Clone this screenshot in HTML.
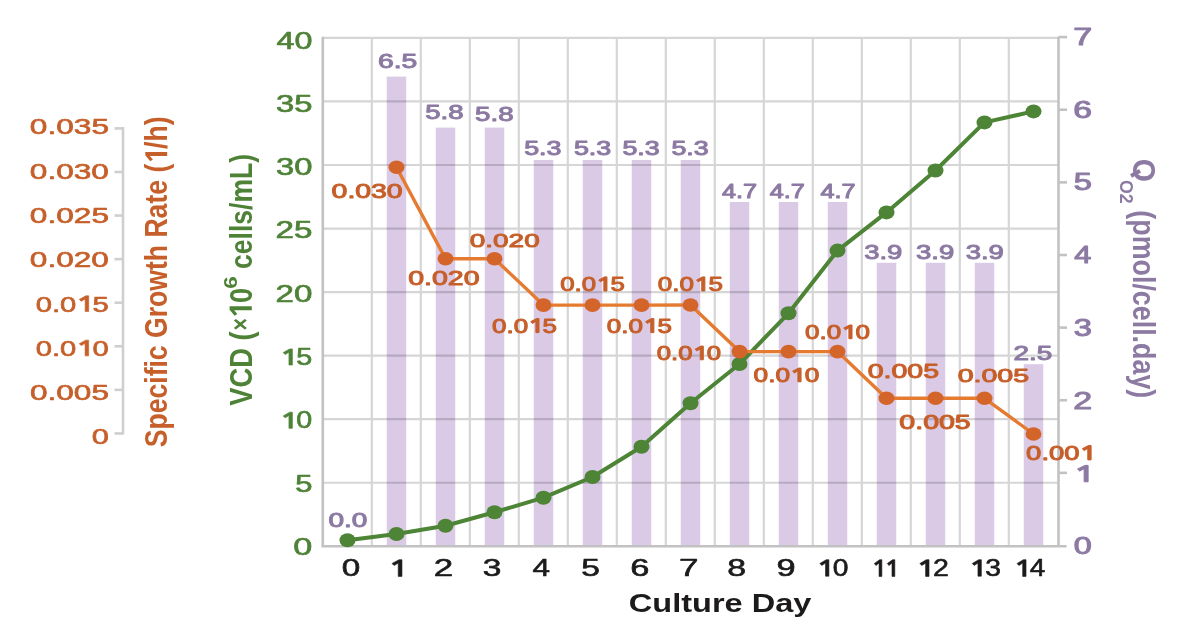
<!DOCTYPE html>
<html><head><meta charset="utf-8"><style>
html,body{margin:0;padding:0;background:#fff;width:1200px;height:630px;overflow:hidden}
svg{display:block;font-family:"Liberation Sans", sans-serif}
</style></head><body>
<svg width="1200" height="630" viewBox="0 0 1200 630">
<rect width="1200" height="630" fill="#fff"/>
<g stroke="#d6d6d6" stroke-width="2.2"><line x1="371.8" y1="37.8" x2="371.8" y2="546.3"/><line x1="420.8" y1="37.8" x2="420.8" y2="546.3"/><line x1="469.8" y1="37.8" x2="469.8" y2="546.3"/><line x1="518.8" y1="37.8" x2="518.8" y2="546.3"/><line x1="567.8" y1="37.8" x2="567.8" y2="546.3"/><line x1="616.8" y1="37.8" x2="616.8" y2="546.3"/><line x1="665.8" y1="37.8" x2="665.8" y2="546.3"/><line x1="714.8" y1="37.8" x2="714.8" y2="546.3"/><line x1="763.8" y1="37.8" x2="763.8" y2="546.3"/><line x1="812.8" y1="37.8" x2="812.8" y2="546.3"/><line x1="861.8" y1="37.8" x2="861.8" y2="546.3"/><line x1="910.8" y1="37.8" x2="910.8" y2="546.3"/><line x1="959.8" y1="37.8" x2="959.8" y2="546.3"/><line x1="1008.8" y1="37.8" x2="1008.8" y2="546.3"/><line x1="322.8" y1="482.75" x2="1058.5" y2="482.75"/><line x1="322.8" y1="419.2" x2="1058.5" y2="419.2"/><line x1="322.8" y1="355.65" x2="1058.5" y2="355.65"/><line x1="322.8" y1="292.1" x2="1058.5" y2="292.1"/><line x1="322.8" y1="228.55" x2="1058.5" y2="228.55"/><line x1="322.8" y1="165" x2="1058.5" y2="165"/><line x1="322.8" y1="101.45" x2="1058.5" y2="101.45"/><line x1="322.8" y1="37.9" x2="1058.5" y2="37.9"/></g>
<g fill="#dacae5" style="mix-blend-mode:multiply"><rect x="386.75" y="76.6" width="19.5" height="469.7"/><rect x="435.75" y="127.6" width="19.5" height="418.7"/><rect x="484.75" y="127.6" width="19.5" height="418.7"/><rect x="533.75" y="160" width="19.5" height="386.3"/><rect x="582.75" y="160" width="19.5" height="386.3"/><rect x="631.75" y="160" width="19.5" height="386.3"/><rect x="680.75" y="160" width="19.5" height="386.3"/><rect x="729.75" y="202" width="19.5" height="344.3"/><rect x="778.75" y="202" width="19.5" height="344.3"/><rect x="827.75" y="202" width="19.5" height="344.3"/><rect x="876.75" y="262.8" width="19.5" height="283.5"/><rect x="925.75" y="262.8" width="19.5" height="283.5"/><rect x="974.75" y="262.8" width="19.5" height="283.5"/><rect x="1023.75" y="364.2" width="19.5" height="182.1"/></g>
<g stroke="#c2c2c2" stroke-width="2.6" fill="none"><line x1="322.8" y1="36.8" x2="322.8" y2="546.3"/><line x1="1058.5" y1="36.8" x2="1058.5" y2="546.3"/><line x1="321.5" y1="546.3" x2="1066.5" y2="546.3"/><line x1="1058.5" y1="472.87" x2="1067" y2="472.87"/><line x1="1058.5" y1="400.24" x2="1067" y2="400.24"/><line x1="1058.5" y1="327.61" x2="1067" y2="327.61"/><line x1="1058.5" y1="254.98" x2="1067" y2="254.98"/><line x1="1058.5" y1="182.35" x2="1067" y2="182.35"/><line x1="1058.5" y1="109.72" x2="1067" y2="109.72"/><line x1="1058.5" y1="37.09" x2="1067" y2="37.09"/></g>
<g stroke="#cfcfcf" stroke-width="2.6" fill="none"><line x1="123" y1="127" x2="123" y2="434.5"/><line x1="114.5" y1="128.4" x2="123" y2="128.4"/><line x1="114.5" y1="171.98" x2="123" y2="171.98"/><line x1="114.5" y1="215.56" x2="123" y2="215.56"/><line x1="114.5" y1="259.14" x2="123" y2="259.14"/><line x1="114.5" y1="302.72" x2="123" y2="302.72"/><line x1="114.5" y1="346.3" x2="123" y2="346.3"/><line x1="114.5" y1="389.88" x2="123" y2="389.88"/><line x1="114.5" y1="433.46" x2="123" y2="433.46"/></g>
<polyline points="347.5,540.2 396.5,534 445.5,525.7 494.5,512.3 543.5,497.7 592.5,477 641.5,446.7 690.5,403.2 739.5,364 788.5,313.3 837.5,250.6 886.5,212.4 935.5,170.5 984.5,122.4 1033.5,111.4" fill="none" stroke="#4d8436" stroke-width="4" stroke-linejoin="round"/>
<g fill="#4d8436"><ellipse cx="347.5" cy="540.2" rx="8" ry="7"/><ellipse cx="396.5" cy="534" rx="8" ry="7"/><ellipse cx="445.5" cy="525.7" rx="8" ry="7"/><ellipse cx="494.5" cy="512.3" rx="8" ry="7"/><ellipse cx="543.5" cy="497.7" rx="8" ry="7"/><ellipse cx="592.5" cy="477" rx="8" ry="7"/><ellipse cx="641.5" cy="446.7" rx="8" ry="7"/><ellipse cx="690.5" cy="403.2" rx="8" ry="7"/><ellipse cx="739.5" cy="364" rx="8" ry="7"/><ellipse cx="788.5" cy="313.3" rx="8" ry="7"/><ellipse cx="837.5" cy="250.6" rx="8" ry="7"/><ellipse cx="886.5" cy="212.4" rx="8" ry="7"/><ellipse cx="935.5" cy="170.5" rx="8" ry="7"/><ellipse cx="984.5" cy="122.4" rx="8" ry="7"/><ellipse cx="1033.5" cy="111.4" rx="8" ry="7"/></g>
<polyline points="396.5,167.3 445.5,258.7 494.5,258.7 543.5,305.1 592.5,305.1 641.5,305.1 690.5,305 739.5,351.6 788.5,351.6 837.5,351.6 886.5,398.3 935.5,398.3 984.5,398.3 1033.5,434" fill="none" stroke="#e57a31" stroke-width="3.4" stroke-linejoin="round"/>
<g fill="#d4652a"><ellipse cx="396.5" cy="167.3" rx="8" ry="6.8"/><ellipse cx="445.5" cy="258.7" rx="8" ry="6.8"/><ellipse cx="494.5" cy="258.7" rx="8" ry="6.8"/><ellipse cx="543.5" cy="305.1" rx="8" ry="6.8"/><ellipse cx="592.5" cy="305.1" rx="8" ry="6.8"/><ellipse cx="641.5" cy="305.1" rx="8" ry="6.8"/><ellipse cx="690.5" cy="305" rx="8" ry="6.8"/><ellipse cx="739.5" cy="351.6" rx="8" ry="6.8"/><ellipse cx="788.5" cy="351.6" rx="8" ry="6.8"/><ellipse cx="837.5" cy="351.6" rx="8" ry="6.8"/><ellipse cx="886.5" cy="398.3" rx="8" ry="6.8"/><ellipse cx="935.5" cy="398.3" rx="8" ry="6.8"/><ellipse cx="984.5" cy="398.3" rx="8" ry="6.8"/><ellipse cx="1033.5" cy="434" rx="8" ry="6.8"/></g>
<text x="328.51" y="527.11" font-size="19.92" font-weight="normal" fill="#8c7aa3" stroke="#8c7aa3" stroke-width="1" stroke-linejoin="round" textLength="38.89" lengthAdjust="spacingAndGlyphs">0.0</text>
<text x="378.06" y="68.11" font-size="19.77" font-weight="normal" fill="#8c7aa3" stroke="#8c7aa3" stroke-width="1" stroke-linejoin="round" textLength="39.32" lengthAdjust="spacingAndGlyphs">6.5</text>
<text x="425.3" y="119.3" font-size="20.06" font-weight="normal" fill="#8c7aa3" stroke="#8c7aa3" stroke-width="1" stroke-linejoin="round" textLength="38.3" lengthAdjust="spacingAndGlyphs">5.8</text>
<text x="475.09" y="120.7" font-size="20.06" font-weight="normal" fill="#8c7aa3" stroke="#8c7aa3" stroke-width="1" stroke-linejoin="round" textLength="38.51" lengthAdjust="spacingAndGlyphs">5.8</text>
<text x="524.23" y="154.71" font-size="19.35" font-weight="normal" fill="#8c7aa3" stroke="#8c7aa3" stroke-width="1" stroke-linejoin="round" textLength="37.25" lengthAdjust="spacingAndGlyphs">5.3</text>
<text x="573.93" y="154.71" font-size="19.35" font-weight="normal" fill="#8c7aa3" stroke="#8c7aa3" stroke-width="1" stroke-linejoin="round" textLength="37.25" lengthAdjust="spacingAndGlyphs">5.3</text>
<text x="622.43" y="154.71" font-size="19.35" font-weight="normal" fill="#8c7aa3" stroke="#8c7aa3" stroke-width="1" stroke-linejoin="round" textLength="37.25" lengthAdjust="spacingAndGlyphs">5.3</text>
<text x="671.43" y="154.71" font-size="19.35" font-weight="normal" fill="#8c7aa3" stroke="#8c7aa3" stroke-width="1" stroke-linejoin="round" textLength="37.25" lengthAdjust="spacingAndGlyphs">5.3</text>
<text x="722.07" y="197.5" font-size="19.99" font-weight="normal" fill="#8c7aa3" stroke="#8c7aa3" stroke-width="1" stroke-linejoin="round" textLength="35.05" lengthAdjust="spacingAndGlyphs">4.7</text>
<text x="769.82" y="197.5" font-size="19.99" font-weight="normal" fill="#8c7aa3" stroke="#8c7aa3" stroke-width="1" stroke-linejoin="round" textLength="35.05" lengthAdjust="spacingAndGlyphs">4.7</text>
<text x="820.52" y="197.5" font-size="19.99" font-weight="normal" fill="#8c7aa3" stroke="#8c7aa3" stroke-width="1" stroke-linejoin="round" textLength="35.05" lengthAdjust="spacingAndGlyphs">4.7</text>
<text x="864.15" y="259.05" font-size="20.27" font-weight="normal" fill="#8c7aa3" stroke="#8c7aa3" stroke-width="1" stroke-linejoin="round" textLength="38.14" lengthAdjust="spacingAndGlyphs">3.9</text>
<text x="916.05" y="259.05" font-size="20.27" font-weight="normal" fill="#8c7aa3" stroke="#8c7aa3" stroke-width="1" stroke-linejoin="round" textLength="38.14" lengthAdjust="spacingAndGlyphs">3.9</text>
<text x="965.75" y="259.05" font-size="20.27" font-weight="normal" fill="#8c7aa3" stroke="#8c7aa3" stroke-width="1" stroke-linejoin="round" textLength="38.14" lengthAdjust="spacingAndGlyphs">3.9</text>
<text x="1013.5" y="359.81" font-size="19.35" font-weight="normal" fill="#8c7aa3" stroke="#8c7aa3" stroke-width="1" stroke-linejoin="round" textLength="38.77" lengthAdjust="spacingAndGlyphs">2.5</text>
<text x="331.59" y="198.1" font-size="20.2" font-weight="normal" fill="#c65f2a" stroke="#c65f2a" stroke-width="1" stroke-linejoin="round" textLength="71.12" lengthAdjust="spacingAndGlyphs">0.030</text>
<text x="408.19" y="285.4" font-size="20.48" font-weight="normal" fill="#c65f2a" stroke="#c65f2a" stroke-width="1" stroke-linejoin="round" textLength="71.33" lengthAdjust="spacingAndGlyphs">0.020</text>
<text x="469.81" y="247.01" font-size="19.21" font-weight="normal" fill="#c65f2a" stroke="#c65f2a" stroke-width="1" stroke-linejoin="round" textLength="69.88" lengthAdjust="spacingAndGlyphs">0.020</text>
<text x="491.99" y="332.6" font-size="20.2" font-weight="normal" fill="#c65f2a" stroke="#c65f2a" stroke-width="1" stroke-linejoin="round" textLength="65.01" lengthAdjust="spacingAndGlyphs">0.0 5</text>
<path d="M0.420 -0.698 L0.420 0.000 L0.300 0.000 L0.300 -0.555 L0.165 -0.455 L0.100 -0.540 L0.325 -0.698Z" fill="#c65f2a" transform="translate(528.1 332.6) scale(25.9769 20.1975)" stroke="#c65f2a" stroke-width="1" stroke-linejoin="round" vector-effect="non-scaling-stroke"/>
<text x="560.29" y="291" font-size="20.2" font-weight="normal" fill="#c65f2a" stroke="#c65f2a" stroke-width="1" stroke-linejoin="round" textLength="64.49" lengthAdjust="spacingAndGlyphs">0.0 5</text>
<path d="M0.420 -0.698 L0.420 0.000 L0.300 0.000 L0.300 -0.555 L0.165 -0.455 L0.100 -0.540 L0.325 -0.698Z" fill="#c65f2a" transform="translate(596.12 291) scale(25.7704 20.1975)" stroke="#c65f2a" stroke-width="1" stroke-linejoin="round" vector-effect="non-scaling-stroke"/>
<text x="606.78" y="332.6" font-size="20.2" font-weight="normal" fill="#c65f2a" stroke="#c65f2a" stroke-width="1" stroke-linejoin="round" textLength="65.11" lengthAdjust="spacingAndGlyphs">0.0 5</text>
<path d="M0.420 -0.698 L0.420 0.000 L0.300 0.000 L0.300 -0.555 L0.165 -0.455 L0.100 -0.540 L0.325 -0.698Z" fill="#c65f2a" transform="translate(642.95 332.6) scale(26.0181 20.1975)" stroke="#c65f2a" stroke-width="1" stroke-linejoin="round" vector-effect="non-scaling-stroke"/>
<text x="657.78" y="291" font-size="20.2" font-weight="normal" fill="#c65f2a" stroke="#c65f2a" stroke-width="1" stroke-linejoin="round" textLength="65.11" lengthAdjust="spacingAndGlyphs">0.0 5</text>
<path d="M0.420 -0.698 L0.420 0.000 L0.300 0.000 L0.300 -0.555 L0.165 -0.455 L0.100 -0.540 L0.325 -0.698Z" fill="#c65f2a" transform="translate(693.95 291) scale(26.0181 20.1975)" stroke="#c65f2a" stroke-width="1" stroke-linejoin="round" vector-effect="non-scaling-stroke"/>
<text x="656.8" y="359.81" font-size="19.63" font-weight="normal" fill="#c65f2a" stroke="#c65f2a" stroke-width="1" stroke-linejoin="round" textLength="64.31" lengthAdjust="spacingAndGlyphs">0.0 0</text>
<path d="M0.420 -0.698 L0.420 0.000 L0.300 0.000 L0.300 -0.555 L0.165 -0.455 L0.100 -0.540 L0.325 -0.698Z" fill="#c65f2a" transform="translate(692.52 359.81) scale(25.6980 19.6326)" stroke="#c65f2a" stroke-width="1" stroke-linejoin="round" vector-effect="non-scaling-stroke"/>
<text x="753.58" y="381.81" font-size="19.63" font-weight="normal" fill="#c65f2a" stroke="#c65f2a" stroke-width="1" stroke-linejoin="round" textLength="65.65" lengthAdjust="spacingAndGlyphs">0.0 0</text>
<path d="M0.420 -0.698 L0.420 0.000 L0.300 0.000 L0.300 -0.555 L0.165 -0.455 L0.100 -0.540 L0.325 -0.698Z" fill="#c65f2a" transform="translate(790.04 381.81) scale(26.2342 19.6326)" stroke="#c65f2a" stroke-width="1" stroke-linejoin="round" vector-effect="non-scaling-stroke"/>
<text x="804.98" y="338.71" font-size="19.63" font-weight="normal" fill="#c65f2a" stroke="#c65f2a" stroke-width="1" stroke-linejoin="round" textLength="65.03" lengthAdjust="spacingAndGlyphs">0.0 0</text>
<path d="M0.420 -0.698 L0.420 0.000 L0.300 0.000 L0.300 -0.555 L0.165 -0.455 L0.100 -0.540 L0.325 -0.698Z" fill="#c65f2a" transform="translate(841.11 338.71) scale(25.9867 19.6326)" stroke="#c65f2a" stroke-width="1" stroke-linejoin="round" vector-effect="non-scaling-stroke"/>
<text x="867.69" y="378.2" font-size="20.2" font-weight="normal" fill="#c65f2a" stroke="#c65f2a" stroke-width="1" stroke-linejoin="round" textLength="71.31" lengthAdjust="spacingAndGlyphs">0.005</text>
<text x="899.39" y="428.61" font-size="19.63" font-weight="normal" fill="#c65f2a" stroke="#c65f2a" stroke-width="1" stroke-linejoin="round" textLength="71.31" lengthAdjust="spacingAndGlyphs">0.005</text>
<text x="957.69" y="382.41" font-size="19.07" font-weight="normal" fill="#c65f2a" stroke="#c65f2a" stroke-width="1" stroke-linejoin="round" textLength="71.31" lengthAdjust="spacingAndGlyphs">0.005</text>
<text x="1026.13" y="459.9" font-size="20.62" font-weight="normal" fill="#c65f2a" stroke="#c65f2a" stroke-width="1" stroke-linejoin="round" textLength="68.71" lengthAdjust="spacingAndGlyphs">0.00 </text>
<path d="M0.420 -0.698 L0.420 0.000 L0.300 0.000 L0.300 -0.555 L0.165 -0.455 L0.100 -0.540 L0.325 -0.698Z" fill="#c65f2a" transform="translate(1079.57 459.9) scale(27.4576 20.6212)" stroke="#c65f2a" stroke-width="1" stroke-linejoin="round" vector-effect="non-scaling-stroke"/>
<text x="29.89" y="134.36" font-size="22.53" font-weight="normal" fill="#c65f2a" stroke="#c65f2a" stroke-width="0.65" stroke-linejoin="round" textLength="79.11" lengthAdjust="spacingAndGlyphs">0.035</text>
<text x="29.89" y="178.66" font-size="22.53" font-weight="normal" fill="#c65f2a" stroke="#c65f2a" stroke-width="0.65" stroke-linejoin="round" textLength="79.02" lengthAdjust="spacingAndGlyphs">0.030</text>
<text x="29.89" y="222.95" font-size="22.53" font-weight="normal" fill="#c65f2a" stroke="#c65f2a" stroke-width="0.65" stroke-linejoin="round" textLength="79.11" lengthAdjust="spacingAndGlyphs">0.025</text>
<text x="29.89" y="267.25" font-size="22.53" font-weight="normal" fill="#c65f2a" stroke="#c65f2a" stroke-width="0.65" stroke-linejoin="round" textLength="79.02" lengthAdjust="spacingAndGlyphs">0.020</text>
<text x="35.78" y="311.56" font-size="22.53" font-weight="normal" fill="#c65f2a" stroke="#c65f2a" stroke-width="0.65" stroke-linejoin="round" textLength="73.12" lengthAdjust="spacingAndGlyphs">0.0 5</text>
<path d="M0.420 -0.698 L0.420 0.000 L0.300 0.000 L0.300 -0.555 L0.165 -0.455 L0.100 -0.540 L0.325 -0.698Z" fill="#c65f2a" transform="translate(76.4 311.56) scale(29.2188 22.5280)" stroke="#c65f2a" stroke-width="0.65" stroke-linejoin="round" vector-effect="non-scaling-stroke"/>
<text x="35.79" y="355.86" font-size="22.53" font-weight="normal" fill="#c65f2a" stroke="#c65f2a" stroke-width="0.65" stroke-linejoin="round" textLength="73.03" lengthAdjust="spacingAndGlyphs">0.0 0</text>
<path d="M0.420 -0.698 L0.420 0.000 L0.300 0.000 L0.300 -0.555 L0.165 -0.455 L0.100 -0.540 L0.325 -0.698Z" fill="#c65f2a" transform="translate(76.35 355.86) scale(29.1835 22.5280)" stroke="#c65f2a" stroke-width="0.65" stroke-linejoin="round" vector-effect="non-scaling-stroke"/>
<text x="29.99" y="400.15" font-size="22.53" font-weight="normal" fill="#c65f2a" stroke="#c65f2a" stroke-width="0.65" stroke-linejoin="round" textLength="79.01" lengthAdjust="spacingAndGlyphs">0.005</text>
<text x="91.72" y="444.45" font-size="22.53" font-weight="normal" fill="#c65f2a" stroke="#c65f2a" stroke-width="0.65" stroke-linejoin="round" textLength="17.16" lengthAdjust="spacingAndGlyphs">0</text>
<text x="293.39" y="554.95" font-size="23.09" font-weight="normal" fill="#4e8237" stroke="#4e8237" stroke-width="0.65" stroke-linejoin="round" textLength="19.02" lengthAdjust="spacingAndGlyphs">0</text>
<text x="295.19" y="491.65" font-size="23.43" font-weight="normal" fill="#4e8237" stroke="#4e8237" stroke-width="0.65" stroke-linejoin="round" textLength="17.18" lengthAdjust="spacingAndGlyphs">5</text>
<text x="280.36" y="428.35" font-size="23.09" font-weight="normal" fill="#4e8237" stroke="#4e8237" stroke-width="0.65" stroke-linejoin="round" textLength="31.83" lengthAdjust="spacingAndGlyphs"> 0</text>
<path d="M0.420 -0.698 L0.420 0.000 L0.300 0.000 L0.300 -0.555 L0.165 -0.455 L0.100 -0.540 L0.325 -0.698Z" fill="#4e8237" transform="translate(280.36 428.35) scale(28.6157 23.0930)" stroke="#4e8237" stroke-width="0.65" stroke-linejoin="round" vector-effect="non-scaling-stroke"/>
<text x="280.35" y="365.05" font-size="23.1" font-weight="normal" fill="#4e8237" stroke="#4e8237" stroke-width="0.65" stroke-linejoin="round" textLength="31.93" lengthAdjust="spacingAndGlyphs"> 5</text>
<path d="M0.420 -0.698 L0.420 0.000 L0.300 0.000 L0.300 -0.555 L0.165 -0.455 L0.100 -0.540 L0.325 -0.698Z" fill="#4e8237" transform="translate(280.35 365.05) scale(28.7021 23.1009)" stroke="#4e8237" stroke-width="0.65" stroke-linejoin="round" vector-effect="non-scaling-stroke"/>
<text x="275.56" y="301.75" font-size="23.09" font-weight="normal" fill="#4e8237" stroke="#4e8237" stroke-width="0.65" stroke-linejoin="round" textLength="36.81" lengthAdjust="spacingAndGlyphs">20</text>
<text x="275.56" y="238.45" font-size="23.09" font-weight="normal" fill="#4e8237" stroke="#4e8237" stroke-width="0.65" stroke-linejoin="round" textLength="36.91" lengthAdjust="spacingAndGlyphs">25</text>
<text x="275.98" y="175.15" font-size="23.09" font-weight="normal" fill="#4e8237" stroke="#4e8237" stroke-width="0.65" stroke-linejoin="round" textLength="36.37" lengthAdjust="spacingAndGlyphs">30</text>
<text x="275.98" y="111.85" font-size="23.09" font-weight="normal" fill="#4e8237" stroke="#4e8237" stroke-width="0.65" stroke-linejoin="round" textLength="36.48" lengthAdjust="spacingAndGlyphs">35</text>
<text x="276.49" y="48.55" font-size="23.09" font-weight="normal" fill="#4e8237" stroke="#4e8237" stroke-width="0.65" stroke-linejoin="round" textLength="35.85" lengthAdjust="spacingAndGlyphs">40</text>
<text x="1073.73" y="554.37" font-size="23.16" font-weight="normal" fill="#8c7aa3" stroke="#8c7aa3" stroke-width="1" stroke-linejoin="round" textLength="18.03" lengthAdjust="spacingAndGlyphs">0</text>
<text x="1074.19" y="481.79" font-size="23.5" font-weight="normal" fill="#8c7aa3" stroke="#8c7aa3" stroke-width="1" stroke-linejoin="round" textLength="18.42" lengthAdjust="spacingAndGlyphs"> </text>
<path d="M0.420 -0.698 L0.420 0.000 L0.300 0.000 L0.300 -0.555 L0.165 -0.455 L0.100 -0.540 L0.325 -0.698Z" fill="#8c7aa3" transform="translate(1074.19 481.79) scale(33.1250 23.4957)" stroke="#8c7aa3" stroke-width="1" stroke-linejoin="round" vector-effect="non-scaling-stroke"/>
<text x="1073.29" y="408.98" font-size="23.49" font-weight="normal" fill="#8c7aa3" stroke="#8c7aa3" stroke-width="1" stroke-linejoin="round" textLength="18.92" lengthAdjust="spacingAndGlyphs">2</text>
<text x="1073.75" y="335.94" font-size="23.16" font-weight="normal" fill="#8c7aa3" stroke="#8c7aa3" stroke-width="1" stroke-linejoin="round" textLength="18.18" lengthAdjust="spacingAndGlyphs">3</text>
<text x="1074.29" y="263.36" font-size="23.84" font-weight="normal" fill="#8c7aa3" stroke="#8c7aa3" stroke-width="1" stroke-linejoin="round" textLength="17.11" lengthAdjust="spacingAndGlyphs">4</text>
<text x="1073.69" y="190.32" font-size="23.5" font-weight="normal" fill="#8c7aa3" stroke="#8c7aa3" stroke-width="1" stroke-linejoin="round" textLength="18.18" lengthAdjust="spacingAndGlyphs">5</text>
<text x="1073.29" y="117.51" font-size="23.16" font-weight="normal" fill="#8c7aa3" stroke="#8c7aa3" stroke-width="1" stroke-linejoin="round" textLength="18.68" lengthAdjust="spacingAndGlyphs">6</text>
<text x="1073.25" y="44.93" font-size="23.84" font-weight="normal" fill="#8c7aa3" stroke="#8c7aa3" stroke-width="1" stroke-linejoin="round" textLength="18.96" lengthAdjust="spacingAndGlyphs">7</text>
<text x="341.75" y="576.17" font-size="23.59" font-weight="normal" fill="#1c1a1a" stroke="#1c1a1a" stroke-width="0.6" stroke-linejoin="round" textLength="18.5" lengthAdjust="spacingAndGlyphs">0</text>
<text x="388.96" y="576.4" font-size="23.93" font-weight="normal" fill="#1c1a1a" stroke="#1c1a1a" stroke-width="0.6" stroke-linejoin="round" textLength="17.21" lengthAdjust="spacingAndGlyphs"> </text>
<path d="M0.420 -0.698 L0.420 0.000 L0.300 0.000 L0.300 -0.555 L0.165 -0.455 L0.100 -0.540 L0.325 -0.698Z" fill="#1c1a1a" transform="translate(388.96 576.4) scale(30.9375 23.9255)" stroke="#1c1a1a" stroke-width="0.6" stroke-linejoin="round" vector-effect="non-scaling-stroke"/>
<text x="433.69" y="576.4" font-size="23.92" font-weight="normal" fill="#1c1a1a" stroke="#1c1a1a" stroke-width="0.6" stroke-linejoin="round" textLength="19.41" lengthAdjust="spacingAndGlyphs">2</text>
<text x="482.77" y="576.17" font-size="23.59" font-weight="normal" fill="#1c1a1a" stroke="#1c1a1a" stroke-width="0.6" stroke-linejoin="round" textLength="18.65" lengthAdjust="spacingAndGlyphs">3</text>
<text x="532.63" y="576.4" font-size="24.27" font-weight="normal" fill="#1c1a1a" stroke="#1c1a1a" stroke-width="0.6" stroke-linejoin="round" textLength="17.55" lengthAdjust="spacingAndGlyphs">4</text>
<text x="581.31" y="576.17" font-size="23.93" font-weight="normal" fill="#1c1a1a" stroke="#1c1a1a" stroke-width="0.6" stroke-linejoin="round" textLength="18.65" lengthAdjust="spacingAndGlyphs">5</text>
<text x="630.3" y="576.17" font-size="23.59" font-weight="normal" fill="#1c1a1a" stroke="#1c1a1a" stroke-width="0.6" stroke-linejoin="round" textLength="19.16" lengthAdjust="spacingAndGlyphs">6</text>
<text x="679.06" y="576.4" font-size="24.27" font-weight="normal" fill="#1c1a1a" stroke="#1c1a1a" stroke-width="0.6" stroke-linejoin="round" textLength="19.45" lengthAdjust="spacingAndGlyphs">7</text>
<text x="727.38" y="576.17" font-size="23.59" font-weight="normal" fill="#1c1a1a" stroke="#1c1a1a" stroke-width="0.6" stroke-linejoin="round" textLength="18.85" lengthAdjust="spacingAndGlyphs">8</text>
<text x="776.44" y="576.17" font-size="23.59" font-weight="normal" fill="#1c1a1a" stroke="#1c1a1a" stroke-width="0.6" stroke-linejoin="round" textLength="19.14" lengthAdjust="spacingAndGlyphs">9</text>
<text x="817.08" y="576.17" font-size="23.59" font-weight="normal" fill="#1c1a1a" stroke="#1c1a1a" stroke-width="0.6" stroke-linejoin="round" textLength="31.32" lengthAdjust="spacingAndGlyphs"> 0</text>
<path d="M0.420 -0.698 L0.420 0.000 L0.300 0.000 L0.300 -0.555 L0.165 -0.455 L0.100 -0.540 L0.325 -0.698Z" fill="#1c1a1a" transform="translate(817.08 576.17) scale(28.1533 23.5873)" stroke="#1c1a1a" stroke-width="0.6" stroke-linejoin="round" vector-effect="non-scaling-stroke"/>
<text x="872.07" y="576.4" font-size="23.93" font-weight="normal" fill="#1c1a1a" stroke="#1c1a1a" stroke-width="0.6" stroke-linejoin="round" textLength="25.9" lengthAdjust="spacingAndGlyphs">  </text>
<path d="M0.420 -0.698 L0.420 0.000 L0.300 0.000 L0.300 -0.555 L0.165 -0.455 L0.100 -0.540 L0.325 -0.698Z" fill="#1c1a1a" transform="translate(872.07 576.4) scale(23.2836 23.9255)" stroke="#1c1a1a" stroke-width="0.6" stroke-linejoin="round" vector-effect="non-scaling-stroke"/>
<path d="M0.420 -0.698 L0.420 0.000 L0.300 0.000 L0.300 -0.555 L0.165 -0.455 L0.100 -0.540 L0.325 -0.698Z" fill="#1c1a1a" transform="translate(885.02 576.4) scale(23.2836 23.9255)" stroke="#1c1a1a" stroke-width="0.6" stroke-linejoin="round" vector-effect="non-scaling-stroke"/>
<text x="917.05" y="576.4" font-size="23.92" font-weight="normal" fill="#1c1a1a" stroke="#1c1a1a" stroke-width="0.6" stroke-linejoin="round" textLength="31.68" lengthAdjust="spacingAndGlyphs"> 2</text>
<path d="M0.420 -0.698 L0.420 0.000 L0.300 0.000 L0.300 -0.555 L0.165 -0.455 L0.100 -0.540 L0.325 -0.698Z" fill="#1c1a1a" transform="translate(917.05 576.4) scale(28.4820 23.9172)" stroke="#1c1a1a" stroke-width="0.6" stroke-linejoin="round" vector-effect="non-scaling-stroke"/>
<text x="969.47" y="576.17" font-size="23.59" font-weight="normal" fill="#1c1a1a" stroke="#1c1a1a" stroke-width="0.6" stroke-linejoin="round" textLength="31.47" lengthAdjust="spacingAndGlyphs"> 3</text>
<path d="M0.420 -0.698 L0.420 0.000 L0.300 0.000 L0.300 -0.555 L0.165 -0.455 L0.100 -0.540 L0.325 -0.698Z" fill="#1c1a1a" transform="translate(969.47 576.17) scale(28.2953 23.5873)" stroke="#1c1a1a" stroke-width="0.6" stroke-linejoin="round" vector-effect="non-scaling-stroke"/>
<text x="1014.31" y="576.4" font-size="23.93" font-weight="normal" fill="#1c1a1a" stroke="#1c1a1a" stroke-width="0.6" stroke-linejoin="round" textLength="31" lengthAdjust="spacingAndGlyphs"> 4</text>
<path d="M0.420 -0.698 L0.420 0.000 L0.300 0.000 L0.300 -0.555 L0.165 -0.455 L0.100 -0.540 L0.325 -0.698Z" fill="#1c1a1a" transform="translate(1014.31 576.4) scale(27.8736 23.9255)" stroke="#1c1a1a" stroke-width="0.6" stroke-linejoin="round" vector-effect="non-scaling-stroke"/>
<text x="628.77" y="612.2" font-size="26" font-weight="bold" fill="#1c1a1a" textLength="182.61" lengthAdjust="spacingAndGlyphs">Culture Day</text>
<g transform="translate(167.2 446.5) rotate(-90)"><text x="-0.77" y="0" font-size="31.4" font-weight="bold" fill="#c65f2a" textLength="330.79" lengthAdjust="spacingAndGlyphs">Specific Growth Rate ( /h)</text><path d="M0.440 -0.698 L0.440 0.000 L0.290 0.000 L0.290 -0.555 L0.155 -0.455 L0.090 -0.540 L0.315 -0.698Z" fill="#c65f2a" transform="translate(282.77 0) scale(26.5773 31.4000)"/></g>
<g transform="translate(252 405.6) rotate(-90)"><text x="-0.19" y="0" font-size="31.3" font-weight="bold" fill="#4e8237" textLength="74.51" lengthAdjust="spacingAndGlyphs">VCD (</text></g>
<g transform="translate(249.25 329.5) rotate(-90)"><text x="-0.9" y="0" font-size="25" font-weight="bold" fill="#4e8237" textLength="12.5" lengthAdjust="spacingAndGlyphs">×</text></g>
<g transform="translate(251.8 315.8) rotate(-90)"><text x="-2.46" y="0" font-size="31.8" font-weight="bold" fill="#4e8237" textLength="30.38" lengthAdjust="spacingAndGlyphs"> 0</text><path d="M0.440 -0.698 L0.440 0.000 L0.290 0.000 L0.290 -0.555 L0.155 -0.455 L0.090 -0.540 L0.315 -0.698Z" fill="#4e8237" transform="translate(-2.46 0) scale(27.3110 31.8000)"/></g>
<g transform="translate(237.4 287.9) rotate(-90)"><text x="-0.82" y="0" font-size="19.2" font-weight="bold" fill="#4e8237" textLength="12.43" lengthAdjust="spacingAndGlyphs">6</text></g>
<g transform="translate(252 267.9) rotate(-90)"><text x="-1.04" y="0" font-size="31.3" font-weight="bold" fill="#4e8237" textLength="115.06" lengthAdjust="spacingAndGlyphs">cells/mL)</text></g>
<g transform="translate(1132.7 160) rotate(90)"><text x="-1.22" y="0" font-size="31.9" font-weight="bold" fill="#8c7aa3" textLength="23.17" lengthAdjust="spacingAndGlyphs">O</text></g>
<line x1="1140" y1="170.8" x2="1131" y2="176" stroke="#8c7aa3" stroke-width="4"/>
<g transform="translate(1120.4 180.7) rotate(90)"><text x="-0.73" y="0" font-size="18.9" font-weight="bold" fill="#8c7aa3" textLength="23.64" lengthAdjust="spacingAndGlyphs">O2</text></g>
<g transform="translate(1132.7 211.7) rotate(90)"><text x="-1.34" y="0" font-size="31.9" font-weight="bold" fill="#8c7aa3" textLength="187.87" lengthAdjust="spacingAndGlyphs">(pmol/cell.day)</text></g>
</svg></body></html>
